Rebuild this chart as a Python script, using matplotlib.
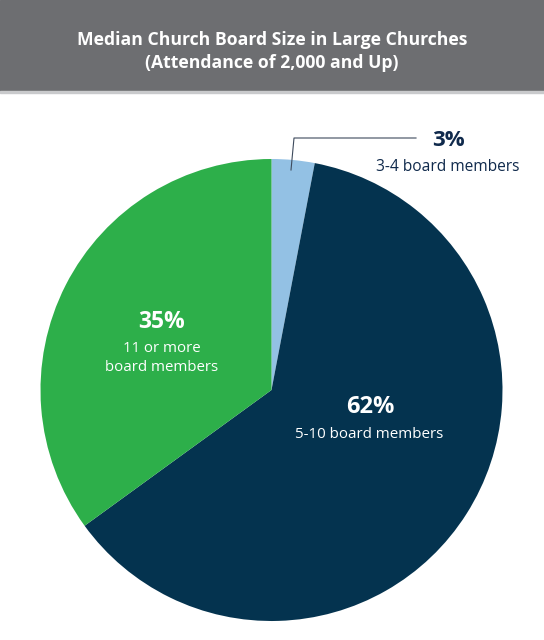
import matplotlib
matplotlib.use("Agg")
import matplotlib.pyplot as plt
from matplotlib.patches import Rectangle

# data
categories = ["3-4 board members", "5-10 board members", "11 or more\nboard members"]
shares = [3, 62, 35]
pct_labels = ["3%", "62%", "35%"]
colors = ["#93c1e4", "#04334f", "#2daf4a"]

title = "Median Church Board Size in Large Churches\n(Attendance of 2,000 and Up)"

W, H = 544, 640
plt.rcParams['font.family'] = ['Open Sans', 'DejaVu Sans']

fig = plt.figure(figsize=(W / 100, H / 100), dpi=100)
ax = fig.add_axes([0, 0, 1, 1])


def py(y):
    # pixel row -> data y
    return H - y


# header band
ax.add_patch(Rectangle((0, py(91)), W, 91, color="#6d6e71", zorder=1))
ax.add_patch(Rectangle((0, py(93)), W, 2, color="#c9cacc", zorder=1))
ax.text(272, py(51.5), title, ha="center", va="center", color="white",
        fontsize=12.7, fontweight="bold", linespacing=1.3, zorder=2)

# pie
ax.pie(shares, colors=colors, startangle=90, counterclock=False,
       center=(271.5, py(390)), radius=231,
       wedgeprops=dict(linewidth=0))

# labels inside
ax.text(162, py(322), pct_labels[2], ha="center", va="center", color="white",
        fontsize=16.5, fontweight="bold")
ax.text(162, py(358), categories[2], ha="center", va="center", color="white",
        fontsize=10.8, linespacing=1.3)
ax.text(370, py(407), pct_labels[1], ha="center", va="center", color="white",
        fontsize=17, fontweight="bold")
ax.text(369, py(434), categories[1], ha="center", va="center", color="white",
        fontsize=10.9)

# small slice callout
ax.plot([291, 294, 416], [py(170), py(138), py(138)], color="#3d4a5c",
        linewidth=0.8, zorder=3)
ax.text(448, py(140), pct_labels[0], ha="center", va="center", color="#102a4c",
        fontsize=16, fontweight="bold")
ax.text(448, py(167), categories[0], ha="center", va="center", color="#102a4c",
        fontsize=11.2)

ax.set_xlim(0, W)
ax.set_ylim(0, H)
ax.set_aspect("auto")
ax.axis("off")

fig.savefig("out.png", dpi=100, facecolor="white")
